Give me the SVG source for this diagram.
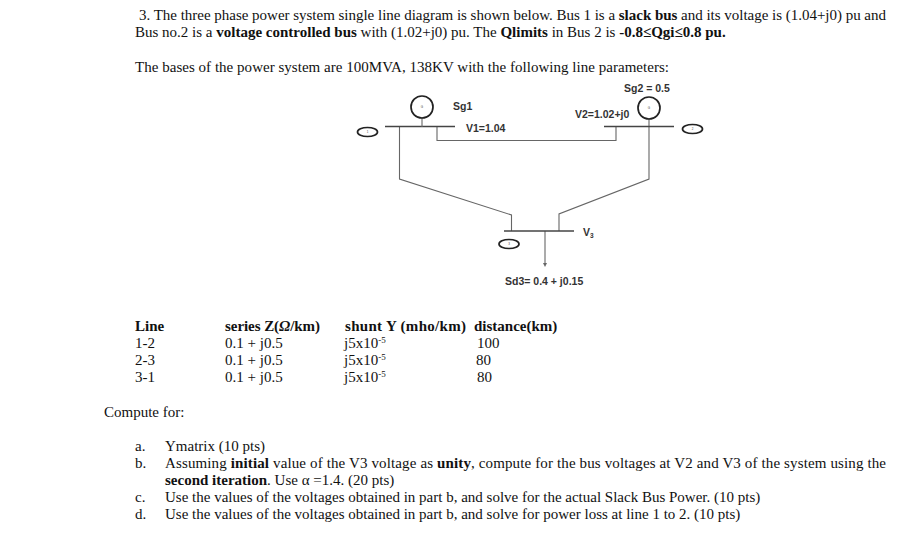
<svg xmlns="http://www.w3.org/2000/svg" width="908" height="555" viewBox="0 0 908 555">
<style>
.t{font-family:"Liberation Serif",serif;font-size:15px;fill:#111}
.b{font-weight:bold}
.s{font-family:"Liberation Sans",sans-serif;font-size:10.500px;font-weight:bold;fill:#333}
.n{font-family:"Liberation Sans",sans-serif;font-size:3px;fill:#444;text-anchor:middle}
.w{fill:none;stroke:#666;stroke-width:1.100}
.bus{fill:none;stroke:#444;stroke-width:1.300}
.gen{fill:#fff;stroke:#222;stroke-width:1.700}
</style>
<rect width="908" height="555" fill="#fff"/>
<g id="text-intro">
<text class="t" x="139" y="20" textLength="747">3.  The three phase power system single line diagram is shown below. Bus 1 is a <tspan class="b">slack bus</tspan> and its voltage is (1.04+j0) pu and</text>
<text class="t" x="135" y="37">Bus no.2 is a <tspan class="b">voltage controlled bus</tspan> with (1.02+j0) pu. The <tspan class="b">Qlimits</tspan> in Bus 2 is <tspan class="b">-0.8≤Qgi≤0.8 pu.</tspan></text>
<text class="t" x="135" y="72" textLength="534">The bases of the power system are 100MVA, 138KV with the following line parameters:</text>
</g>
<g id="connectors">
<path class="w" d="M399.500 127V179L511.500 215V231"/>
<path class="w" d="M649 119V179L559 214V231"/>
<path class="w" d="M437 127V140.500H616V127"/>
<path class="w" d="M545 231V264"/>
<path d="M543 263H547L545 267Z" fill="#666"/>
</g>
<g id="bus-1"><path class="bus" d="M385 126.500H455"/><path class="w" d="M422 118V127"/><ellipse class="gen" cx="367.500" cy="132" rx="10" ry="4.500"/><text class="n" x="367.500" y="133">1</text></g>
<g id="bus-2"><path class="bus" d="M604 126.500H674"/><ellipse class="gen" cx="692.500" cy="129" rx="10" ry="4.500"/><text class="n" x="692.500" y="130">2</text></g>
<g id="bus-3"><path class="bus" d="M504 231H574"/><ellipse class="gen" cx="509" cy="244" rx="10" ry="4.500"/><text class="n" x="509" y="245">3</text></g>
<g id="gen-1"><circle class="gen" cx="422" cy="107" r="11"/><text class="n" x="422" y="108">G</text></g>
<g id="gen-2"><circle class="gen" cx="649" cy="108" r="11"/><text class="n" x="649" y="109">G</text></g>
<g id="labels">
<text class="s" x="453" y="110">Sg1</text>
<text class="s" x="466" y="132">V1=1.04</text>
<text class="s" x="575" y="118">V2=1.02+j0</text>
<text class="s" x="624" y="92">Sg2 = 0.5</text>
<text class="s" x="583" y="236">V<tspan font-size="6.500" dy="1.500">3</tspan></text>
<text class="s" x="505" y="285">Sd3= 0.4 + j0.15</text>
</g>
<g id="table">
<text class="t b" x="135" y="331">Line</text><text class="t" x="135" y="348">1-2</text><text class="t" x="135" y="365">2-3</text><text class="t" x="135" y="382">3-1</text>
<text class="t b" x="225" y="331" textLength="95">series Z(<tspan font-style="italic">Ω</tspan>/km)</text><text class="t" x="225" y="348">0.1 + j0.5</text><text class="t" x="225" y="365">0.1 + j0.5</text><text class="t" x="225" y="382">0.1 + j0.5</text>
<text class="t b" x="345" y="331" textLength="121">shunt Y (mho/km)</text>
<text class="t" x="344" y="348">j5x10<tspan font-size="9" dy="-5">-5</tspan></text><text class="t" x="344" y="365">j5x10<tspan font-size="9" dy="-5">-5</tspan></text><text class="t" x="344" y="382">j5x10<tspan font-size="9" dy="-5">-5</tspan></text>
<text class="t b" x="474" y="331">distance(km)</text><text class="t" x="477" y="348">100</text><text class="t" x="476" y="365">80</text><text class="t" x="477" y="382">80</text>
</g>
<g id="questions">
<text class="t" x="104" y="417">Compute for:</text>
<text class="t" x="135" y="451">a.</text><text class="t" x="165" y="451">Ymatrix (10 pts)</text>
<text class="t" x="135" y="468">b.</text><text class="t" x="165" y="468" textLength="721">Assuming <tspan class="b">initial</tspan> value of the V3 voltage as <tspan class="b">unity</tspan>, compute for the bus voltages at V2 and V3 of the system using the</text>
<text class="t b" x="165" y="485">second iteration<tspan font-weight="normal">. Use α =1.4. (20 pts)</tspan></text>
<text class="t" x="135" y="502">c.</text><text class="t" x="165" y="502">Use the values of the voltages obtained in part b, and solve for the actual Slack Bus Power. (10 pts)</text>
<text class="t" x="135" y="519">d.</text><text class="t" x="165" y="519">Use the values of the voltages obtained in part b, and solve for power loss at line 1 to 2. (10 pts)</text>
</g>
</svg>
